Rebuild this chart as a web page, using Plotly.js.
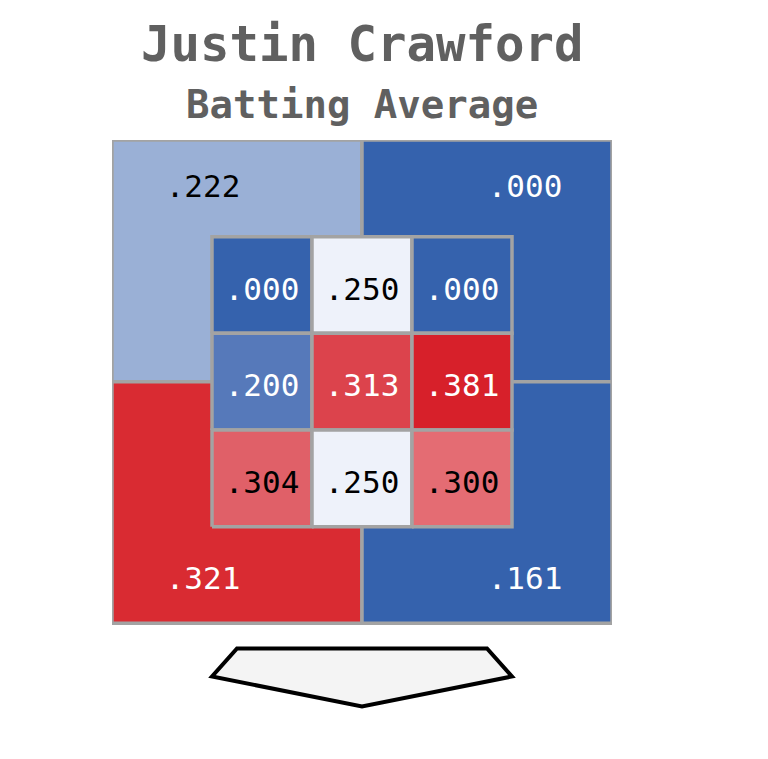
<!DOCTYPE html>
<html>
<head>
<meta charset="utf-8">
<script src="https://cdn.plot.ly/plotly-3.0.1.min.js"></script>
<style>html,body{margin:0;padding:0;background:#fff;}#chart{width:768px;height:759px;}</style>
</head>
<body>
<div id="chart"></div>
<script>
// Data
const playerName = "Justin Crawford";
const metricName = "Batting Average";
// Outer zones: top-left, top-right, bottom-left, bottom-right
const outerZones = ["TL", "TR", "BL", "BR"];
const outerValues = [0.222, 0.000, 0.321, 0.161];
// Inner 3x3 zones, rows top to bottom, columns left to right
const innerRows = ["high", "middle", "low"];
const innerCols = ["inside", "center", "outside"];
const innerValues = [
  [0.000, 0.250, 0.000],
  [0.200, 0.313, 0.381],
  [0.304, 0.250, 0.300]
];

// Colour scale
const zmin = 0.15, zmax = 0.35;
const scaleStops = [
  [0.00, [53, 98, 173]],
  [0.07, [53, 98, 173]],
  [0.25, [86, 121, 186]],
  [0.36, [154, 176, 214]],
  [0.50, [238, 242, 250]],
  [0.75, [228, 108, 115]],
  [0.77, [224, 96, 104]],
  [0.815, [220, 67, 76]],
  [0.855, [217, 43, 50]],
  [1.00, [215, 32, 42]]
];
function colorFor(v) {
  let t = (v - zmin) / (zmax - zmin);
  t = Math.max(0, Math.min(1, t));
  for (let i = 1; i < scaleStops.length; i++) {
    const [t1, c1] = scaleStops[i];
    const [t0, c0] = scaleStops[i - 1];
    if (t <= t1) {
      const f = (t - t0) / (t1 - t0);
      const c = c0.map((a, k) => Math.round(a + (c1[k] - a) * f));
      return `rgb(${c[0]},${c[1]},${c[2]})`;
    }
  }
  const c = scaleStops[scaleStops.length - 1][1];
  return `rgb(${c[0]},${c[1]},${c[2]})`;
}
function textColorFor(v) {
  const t = (v - zmin) / (zmax - zmin);
  return (t > 0.3 && t < 0.8) ? "#000000" : "#ffffff";
}
function fmt(v) { return v.toFixed(3).replace(/^0/, ""); }

const borderColor = "#A3A3A3";
const borderWidth = 3.5;
const traces = [];

// Outer quadrant geometry: zone spans x [-1,4], y [-1,4], split at 1.5
const outerEdges = [[-1, 1.5], [1.5, 4]];
const outerLabelX = [-0.09, 3.13];
const outerLabelY = [3.49, -0.56];
outerZones.forEach((z, i) => {
  const col = i % 2, row = Math.floor(i / 2); // row 0 = top
  const [x0, x1] = outerEdges[col];
  const [y0, y1] = row === 0 ? outerEdges[1] : outerEdges[0];
  traces.push({
    type: "scatter", mode: "lines", fill: "toself",
    x: [x0, x1, x1, x0, x0], y: [y0, y0, y1, y1, y0],
    fillcolor: colorFor(outerValues[i]),
    line: {color: borderColor, width: borderWidth},
    hoverinfo: "skip", showlegend: false
  });
});
// Inner grid: columns x 0..3, rows y 3..0
innerValues.forEach((rowVals, r) => {
  rowVals.forEach((v, c) => {
    const x0 = c, x1 = c + 1, y1 = 3 - r, y0 = 2 - r;
    traces.push({
      type: "scatter", mode: "lines", fill: "toself",
      x: [x0, x1, x1, x0, x0], y: [y0, y0, y1, y1, y0],
      fillcolor: colorFor(v),
      line: {color: borderColor, width: borderWidth},
      hoverinfo: "skip", showlegend: false
    });
  });
});
// Labels
const lx = [], ly = [], lt = [], lc = [];
outerValues.forEach((v, i) => {
  lx.push(outerLabelX[i % 2]); ly.push(outerLabelY[Math.floor(i / 2)]);
  lt.push(fmt(v)); lc.push(textColorFor(v));
});
innerValues.forEach((rowVals, r) => rowVals.forEach((v, c) => {
  lx.push(c + 0.5); ly.push(2.43 - r); lt.push(fmt(v)); lc.push(textColorFor(v));
}));
traces.push({
  type: "scatter", mode: "text", x: lx, y: ly, text: lt,
  textfont: {family: "DejaVu Sans Mono, monospace", size: 31, color: lc},
  textposition: "middle center", hoverinfo: "skip", showlegend: false
});

const layout = {
  width: 768, height: 759,
  margin: {l: 112, r: 156, t: 140, b: 39},
  paper_bgcolor: "#ffffff", plot_bgcolor: "#ffffff",
  xaxis: {range: [-1, 4], visible: false, fixedrange: true},
  yaxis: {range: [-2, 4], visible: false, fixedrange: true},
  showlegend: false,
  shapes: [{
    type: "path", xref: "x", yref: "y",
    path: "M 0.25 -1.26 L 2.75 -1.26 L 3 -1.55 L 1.5 -1.86 L 0 -1.55 Z",
    fillcolor: "#F4F4F4", line: {color: "#000000", width: 4}, layer: "above"
  }],
  annotations: [
    {text: "<b>" + playerName + "</b>", xref: "x", yref: "paper", x: 1.5, y: 1, yshift: 96,
     showarrow: false, xanchor: "center", yanchor: "middle",
     font: {family: "DejaVu Sans Mono, monospace", size: 49, color: "#606060"}},
    {text: "<b>" + metricName + "</b>", xref: "x", yref: "paper", x: 1.5, y: 1, yshift: 36,
     showarrow: false, xanchor: "center", yanchor: "middle",
     font: {family: "DejaVu Sans Mono, monospace", size: 39, color: "#606060"}}
  ]
};
Plotly.newPlot("chart", traces, layout, {displayModeBar: false, staticPlot: true});
</script>
</body>
</html>
